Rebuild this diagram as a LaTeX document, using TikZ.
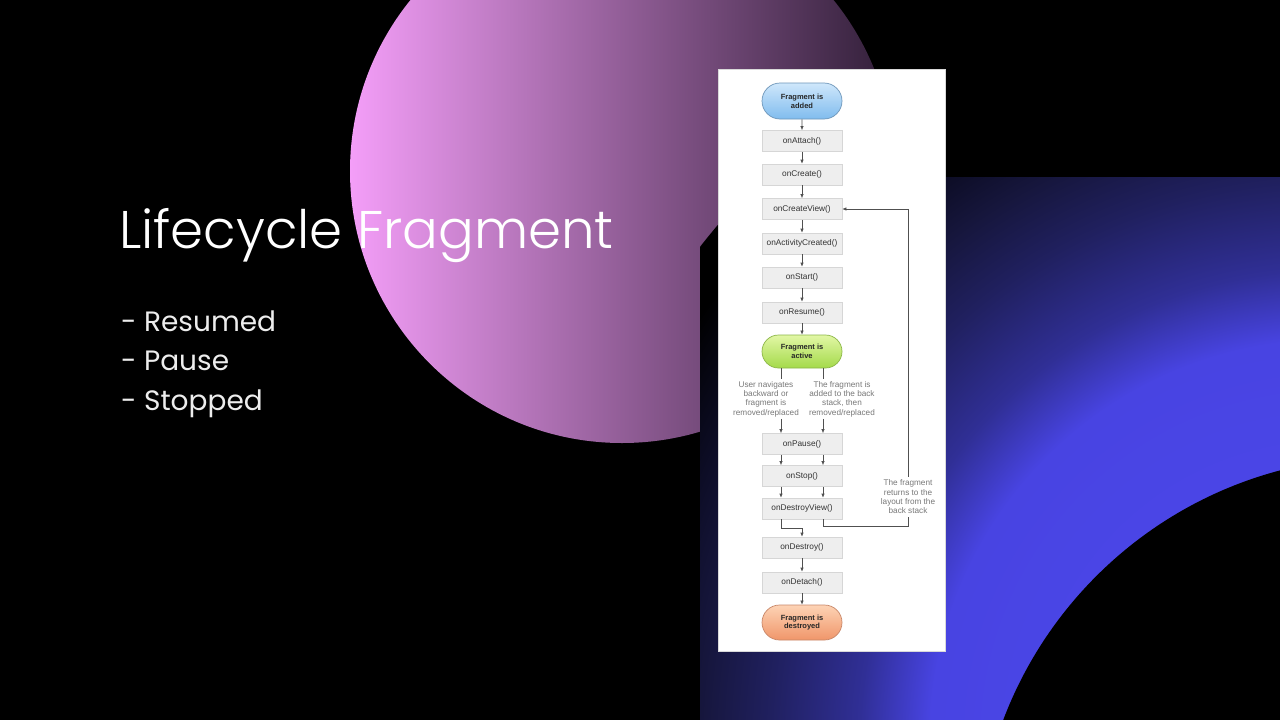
\documentclass[tikz,border=0pt]{standalone}
\usepackage{fontspec}
\setmainfont{Liberation Sans}
\IfFontExistsTF{Poppins Light}{\newfontfamily\titlefont{Poppins Light}}{%
  \IfFontExistsTF{Poppins ExtraLight}{\newfontfamily\titlefont{Poppins ExtraLight}}{%
    \IfFontExistsTF{Poppins Thin}{\newfontfamily\titlefont{Poppins Thin}}{%
      \newfontfamily\titlefont{Poppins}}}}
\newfontfamily\bulletfont{Poppins}
\usetikzlibrary{arrows.meta,shapes.misc}
\definecolor{pinkL}{RGB}{244,158,248}
\definecolor{pinkR}{RGB}{48,30,55}
\definecolor{bB0}{RGB}{78,72,240}
\definecolor{bB1}{RGB}{72,68,226}
\definecolor{bB2}{RGB}{48,47,150}
\definecolor{bB3}{RGB}{32,32,95}
\definecolor{bB4}{RGB}{22,22,60}
\definecolor{bB5}{RGB}{13,13,38}
\definecolor{boxFill}{RGB}{238,238,238}
\definecolor{boxLine}{RGB}{214,214,214}
\definecolor{txt}{RGB}{51,51,51}
\definecolor{note}{RGB}{120,120,120}
\definecolor{arrowC}{RGB}{80,80,80}
\definecolor{bTop}{RGB}{207,231,251}
\definecolor{bBot}{RGB}{128,188,238}
\definecolor{bLine}{RGB}{110,150,185}
\definecolor{gTop}{RGB}{226,247,166}
\definecolor{gBot}{RGB}{164,218,74}
\definecolor{gLine}{RGB}{140,182,72}
\definecolor{oTop}{RGB}{253,211,181}
\definecolor{oBot}{RGB}{240,150,106}
\definecolor{oLine}{RGB}{200,135,105}
\pgfdeclareradialshading{bluerad}{\pgfpoint{0bp}{0bp}}{color(0bp)=(bB0); color(12.5bp)=(bB1); color(14.7bp)=(bB2); color(17.5bp)=(bB3); color(19.7bp)=(bB4); color(21.25bp)=(bB5); color(23.75bp)=(black); color(50bp)=(black)}
\tikzset{
  stepbox/.style={draw=boxLine, fill=boxFill, line width=0.6pt, minimum width=80pt, minimum height=21pt, inner sep=0pt, text=txt, font=\fontsize{8.3}{10}\selectfont},
  pill/.style={rounded rectangle, line width=0.7pt, minimum width=80pt, minimum height=35pt, inner sep=0pt, align=center, text=black!85, font=\bfseries\fontsize{7.5}{8.8}\selectfont},
  notetext/.style={align=center, text=note, inner sep=2pt, font=\fontsize{8.2}{9.3}\selectfont},
  ln/.style={draw=arrowC, line width=0.6pt},
  arr/.style={ln, -{Latex[length=4pt,width=3.4pt]}},
  bullet/.style={anchor=base west, inner sep=0pt, text=white!93!black, font=\bulletfont\fontsize{28}{34}\selectfont}
}
\begin{document}
\begin{tikzpicture}[x=1pt,y=-1pt]
\useasboundingbox (0,0) rectangle (1280,720);
\fill[black] (0,0) rectangle (1280,720);
% pink circle
\shade[left color=pinkL, right color=pinkR] (622,171) circle[radius=272];
% blue area
\begin{scope}
  \clip (700,177) rectangle (1280,720);
  \shade[shading=bluerad] (1330,740) circle[radius=800];
\end{scope}
% black circle in the corner
\fill[black] (1384,864) circle[radius=407];
% title and bullets
\node[anchor=base west, inner sep=0pt, text=white, font=\titlefont\fontsize{53}{61}\selectfont] (title) at (119,248) {Lifecycle Fragment};
\node[bullet] (b1) at (121,331) {- Resumed};
\node[bullet] (b2) at (121,370) {- Pause};
\node[bullet] (b3) at (121,410) {- Stopped};
% card
\fill[white, draw=black!15, line width=0.8pt] (718,69) rectangle (945,651);
% diagram
\coordinate (lx) at (781,0);
\coordinate (rx) at (823,0);
\node[pill, draw=bLine, top color=bTop, bottom color=bBot, minimum height=36pt] (added) at (802,101) {Fragment is\\added};
\node[stepbox] (attach) at (802,141) {onAttach()};
\node[stepbox] (create) at (802,174.5) {onCreate()};
\node[stepbox] (cview) at (802,209) {onCreateView()};
\node[stepbox] (acreated) at (802,243.5) {onActivityCreated()};
\node[stepbox] (start) at (802,277.5) {onStart()};
\node[stepbox] (resume) at (802,312.5) {onResume()};
\node[pill, draw=gLine, top color=gTop, bottom color=gBot, minimum height=33pt] (active) at (802,351.5) {Fragment is\\active};
\node[notetext] (ltxt) at (766,399) {User navigates\\backward or\\fragment is\\removed/replaced};
\node[notetext] (rtxt) at (842,399) {The fragment is\\added to the back\\stack, then\\removed/replaced};
\node[stepbox] (pause) at (802,444) {onPause()};
\node[stepbox] (stop) at (802,476) {onStop()};
\node[stepbox] (dview) at (802,508.5) {onDestroyView()};
\node[stepbox] (destroy) at (802,547.5) {onDestroy()};
\node[stepbox] (detach) at (802,582.5) {onDetach()};
\node[pill, draw=oLine, top color=oTop, bottom color=oBot, minimum height=35pt] (destroyed) at (802,622.5) {Fragment is\\destroyed};
% straight arrows
\draw[arr] (added) -- (attach);
\draw[arr] (attach) -- (create);
\draw[arr] (create) -- (cview);
\draw[arr] (cview) -- (acreated);
\draw[arr] (acreated) -- (start);
\draw[arr] (start) -- (resume);
\draw[arr] (resume) -- (active);
\draw[ln] (active.south -| lx) -- (ltxt.north -| lx);
\draw[ln] (active.south -| rx) -- (rtxt.north -| rx);
\draw[arr] (ltxt.south -| lx) -- (pause.north -| lx);
\draw[arr] (rtxt.south -| rx) -- (pause.north -| rx);
\draw[arr] (pause.south -| lx) -- (stop.north -| lx);
\draw[arr] (pause.south -| rx) -- (stop.north -| rx);
\draw[arr] (stop.south -| lx) -- (dview.north -| lx);
\draw[arr] (stop.south -| rx) -- (dview.north -| rx);
\coordinate (jn) at (802,528);
\draw[arr] (dview.south -| lx) |- (jn) -- (destroy.north);
\draw[arr] (destroy) -- (detach);
\draw[arr] (detach) -- (destroyed);
% loop back
\coordinate (lp) at (908,526);
\draw[arr] (dview.south -| rx) |- (lp) |- (cview.east);
\node[notetext, fill=white, inner sep=3pt] (backtxt) at (908,497) {The fragment\\returns to the\\layout from the\\back stack};
\end{tikzpicture}
\end{document}
